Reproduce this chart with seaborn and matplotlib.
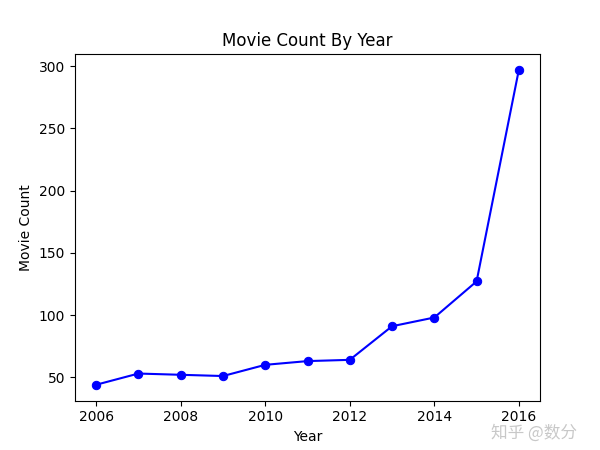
import numpy as np
import pandas as pd
import matplotlib
matplotlib.use("Agg")
import matplotlib.pyplot as plt
import seaborn as sns

years = [2006, 2007, 2008, 2009, 2010, 2011, 2012, 2013, 2014, 2015, 2016]
movie_counts = [44, 53, 52, 51, 60, 63, 64, 91, 98, 127, 297]

df = pd.DataFrame({"Year": years, "Movie Count": movie_counts})

plt.rcParams['font.family'] = ['DejaVu Sans', 'Noto Sans CJK SC']

fig, ax = plt.subplots(figsize=(6, 4.5), dpi=100)
sns.lineplot(data=df, x="Year", y="Movie Count", marker="o", color="blue",
             markeredgecolor="blue", markersize=6, linewidth=1.5, ax=ax)
ax.set_title("Movie Count By Year")
ax.set_xlabel("Year")
ax.set_ylabel("Movie Count")

# watermark
fig.text(0.818, 0.028, "知乎 @数分", fontsize=12, color="#c8c8c8",
         family=['Noto Sans CJK SC', 'DejaVu Sans'])

plt.savefig("out.png", dpi=100)
